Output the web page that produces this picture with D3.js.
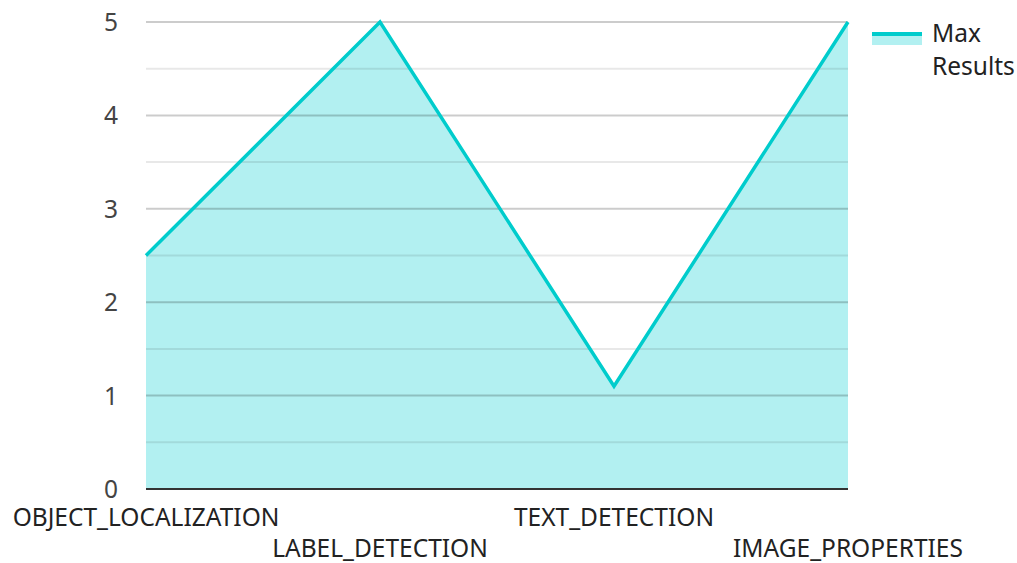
<!DOCTYPE html>
<html>
<head>
<meta charset="utf-8">
<script src="https://cdn.jsdelivr.net/npm/d3@7"></script>
<style>
  body { margin: 0; background: #fff; }
  text { font-family: "Noto Sans", "Open Sans", sans-serif; }
</style>
</head>
<body>
<svg class="chart" width="1017" height="563"></svg>
<script>
var categories = ['OBJECT_LOCALIZATION', 'LABEL_DETECTION', 'TEXT_DETECTION', 'IMAGE_PROPERTIES'];
var maxResults = [2.5, 5, 1.1, 5];
var yTicks = [0, 1, 2, 3, 4, 5];
var seriesName = ['Max', 'Results'];

var p = {};
    p.margin = {top: 22, left: 146, right: 169, bottom: 74};
    p.width = 1017 - p.margin.left - p.margin.right;
    p.height = 563 - p.margin.top - p.margin.bottom;
    p.line = '#00cccc';
    p.fill = 'rgba(0, 206, 209, 0.3)';
    p.fontSize = 24.5;

var data = categories.map(function(c, i) { return {cat: c, v: maxResults[i]}; });

var svg = d3.select('.chart');
var chart = svg.append('g')
    .attr('transform', 'translate(' + p.margin.left + ',' + p.margin.top + ')');

var x = d3.scalePoint().domain(categories).range([0, p.width]);
var y = d3.scaleLinear().domain([0, 5]).range([p.height, 0]);

//-----  Area + line  -----//
var area = d3.area()
    .x(function(d) { return x(d.cat); })
    .y0(p.height)
    .y1(function(d) { return y(d.v); });
chart.append('path')
    .datum(data)
    .attr('fill', p.fill)
    .attr('d', area);

//-----  Grid  -----//
var minor = d3.range(0.5, 5, 1);
chart.selectAll('.minor')
    .data(minor)
    .enter().append('line')
    .attr('x1', 0).attr('x2', p.width)
    .attr('y1', function(d) { return y(d); })
    .attr('y2', function(d) { return y(d); })
    .attr('stroke', 'rgba(0,0,0,0.09)')
    .attr('stroke-width', 2);
chart.selectAll('.major')
    .data(yTicks.slice(1))
    .enter().append('line')
    .attr('x1', 0).attr('x2', p.width)
    .attr('y1', function(d) { return y(d); })
    .attr('y2', function(d) { return y(d); })
    .attr('stroke', 'rgba(0,0,0,0.2)')
    .attr('stroke-width', 2);

var line = d3.line()
    .x(function(d) { return x(d.cat); })
    .y(function(d) { return y(d.v); });
chart.append('path')
    .datum(data)
    .attr('fill', 'none')
    .attr('stroke', p.line)
    .attr('stroke-width', 3.5)
    .attr('stroke-linejoin', 'miter')
    .attr('d', line);

//-----  Y axis labels  -----//
chart.selectAll('.ylab')
    .data(yTicks)
    .enter().append('text')
    .attr('x', -28)
    .attr('y', function(d) { return y(d) + 9; })
    .attr('text-anchor', 'end')
    .attr('font-size', p.fontSize)
    .attr('fill', '#444')
    .text(function(d) { return d; });

//-----  X axis  -----//
chart.append('line')
    .attr('x1', 0).attr('x2', p.width)
    .attr('y1', p.height).attr('y2', p.height)
    .attr('stroke', '#333')
    .attr('stroke-width', 2);
chart.selectAll('.xlab')
    .data(categories)
    .enter().append('text')
    .attr('x', function(d) { return x(d); })
    .attr('y', function(d, i) { return p.height + (i % 2 ? 68 : 37); })
    .attr('text-anchor', 'middle')
    .attr('font-size', p.fontSize)
    .attr('fill', '#222')
    .text(function(d) { return d; });

//-----  Legend  -----//
var legend = svg.append('g').attr('transform', 'translate(872, 34)');
legend.append('rect')
    .attr('width', 50).attr('height', 11)
    .attr('fill', p.fill);
legend.append('line')
    .attr('x1', 0).attr('x2', 50)
    .attr('y1', 0).attr('y2', 0)
    .attr('stroke', p.line)
    .attr('stroke-width', 4);
legend.selectAll('.lt')
    .data(seriesName)
    .enter().append('text')
    .attr('x', 60)
    .attr('y', function(d, i) { return 8 + i * 33; })
    .attr('font-size', p.fontSize)
    .attr('fill', '#222')
    .text(function(d) { return d; });
</script>
</body>
</html>
